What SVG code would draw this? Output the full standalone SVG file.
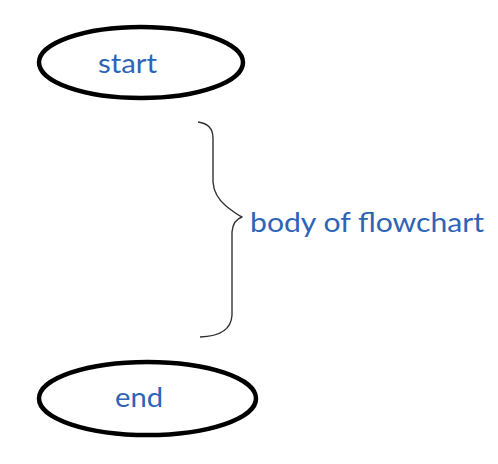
<svg xmlns="http://www.w3.org/2000/svg" width="498" height="464" viewBox="0 0 498 464">
<style>
.term{fill:#ffffff;stroke:#000000;stroke-width:4.5}
.lbl{font-family:"Lato","Open Sans",sans-serif;fill:#2E64B6;font-size:26px}
.brace{fill:none;stroke:#333333;stroke-width:1.4;stroke-linejoin:round}
</style>
<rect width="498" height="464" fill="#ffffff"/>
<g id="start">
<ellipse class="term" cx="141" cy="62.5" rx="102" ry="35.5"/>
<text class="lbl" x="98" y="73" textLength="59" lengthAdjust="spacingAndGlyphs">start</text>
</g>
<g id="connectors">
<path class="brace" d="M198,122 Q213,124 213,138 L213,182 Q214,196 226,206 Q236,214 242,217 Q233,220 232,232 L232,315 Q231,336 200,337"/>
</g>
<g id="body">
<text class="lbl" x="250" y="232" textLength="234" lengthAdjust="spacingAndGlyphs">body of flowchart</text>
</g>
<g id="end">
<ellipse class="term" cx="147.5" cy="398.5" rx="108.5" ry="36.5"/>
<text class="lbl" x="115" y="407" textLength="48" lengthAdjust="spacingAndGlyphs">end</text>
</g>
</svg>
